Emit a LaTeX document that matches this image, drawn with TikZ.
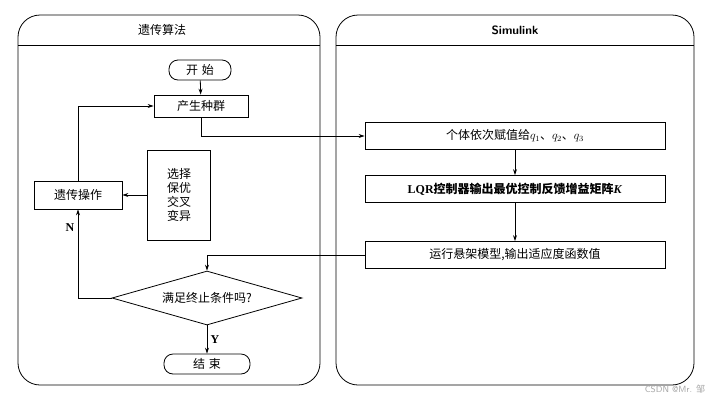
\documentclass[tikz,border=0pt]{standalone}
\usepackage{fontspec}
\setmainfont{Liberation Serif}
\newfontfamily\cjk{Noto Sans CJK SC}
\usetikzlibrary{arrows.meta,positioning,shapes.geometric}
\begin{document}
\begin{tikzpicture}[
		x = 1pt, y = -1pt,
		> = {Stealth[length=6pt,width=4pt]}, % arrow head style
		semithick, % line style
		font = \fontsize{12}{14}\selectfont\cjk
	]
	
	\tikzset{
		panel/.style = {draw = black, thick, rounded corners = 22pt},
		box/.style = {draw = black, thick, fill = white, inner sep = 2pt},
		term/.style = {draw = black, thick, rounded corners = 9pt, minimum width = 62pt, minimum height = 20pt},
		flow/.style = {->, draw = black, thick},
		branch/.style = {font = \fontsize{12}{14}\selectfont\rmfamily\bfseries}
	}
	
	\useasboundingbox (0,0) rectangle (723,400);
	
	% panels
	\draw[panel] (18,15) rectangle (320,385);
	\draw[panel] (336,15) rectangle (694,385);
	\draw[thick] (18,45) -- (320,45);
	\draw[thick] (336,45) -- (694,45);
	\node (ga) at (162,30) {遗传算法};
	\node[font = \fontsize{12}{14}\selectfont\bfseries\sffamily] (sim) at (515,30) {Simulink};
	
	% left side
	\node[term] (start) at (200,70) {开\,\,始};
	\node[box, minimum width = 94pt, minimum height = 22pt] (pop) at (201,106) {产生种群};
	\node[box, minimum width = 63pt, minimum height = 90pt, align = center] (ops) at (179,195) {选择\\保优\\交叉\\变异};
	\node[box, minimum width = 88pt, minimum height = 28pt] (gen) at (78,195) {遗传操作};
	\node[draw = black, thick, diamond, aspect = 3.6, inner sep = 1pt, minimum width = 190pt, minimum height = 54pt] (cond) at (207,298) {满足终止条件吗?};
	\node[term, minimum width = 86pt] (stop) at (207,364) {结\,\,束};
	
	% right side
	\node[box, minimum width = 300pt, minimum height = 27pt] (assign) at (515,136) {个体依次赋值给$q_1$、$q_2$、$q_3$};
	\node[box, minimum width = 300pt, minimum height = 27pt] (lqr) at (515,189) {\textbf{{\rmfamily LQR}控制器输出最优控制反馈增益矩阵{\rmfamily\itshape K}}};
	\node[box, minimum width = 300pt, minimum height = 27pt] (run) at (515,255) {运行悬架模型,输出适应度函数值};
	
	% connectors
	\draw[flow] (start) -- (pop);
	\draw[flow] (pop.south) |- (assign.west);
	\draw[flow] (assign) -- (lqr);
	\draw[flow] (lqr) -- (run);
	\draw[flow] (run.west) -| (cond.north);
	\draw[flow] (cond.west) -| node[pos = 0.9, left, branch] {N} (gen.south);
	\draw[flow] (gen.north) |- (pop.west);
	\draw[flow] (ops) -- (gen);
	\draw[flow] (cond) -- node[right, branch] {Y} (stop);
	
	\node[text = gray!70, font = \fontsize{9}{10}\selectfont\sffamily] (wm) at (675,389) {CSDN @Mr. {\cjk 邹}};
\end{tikzpicture}
\end{document}
